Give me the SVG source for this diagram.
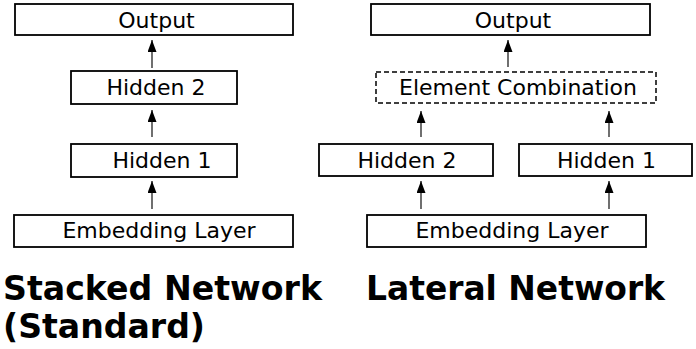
<svg xmlns="http://www.w3.org/2000/svg" width="696" height="349" viewBox="0 0 696 349">
  <defs>
    <marker id="ah" markerUnits="userSpaceOnUse" markerWidth="12" markerHeight="10" refX="12" refY="4.5" orient="auto">
      <path d="M0,0 L12,4.5 L0,9 z" fill="#000"/>
    </marker>
    <style>
      .box { fill: #fff; stroke: #000; stroke-width: 1.8; }
      .dash { fill: #fff; stroke: #000; stroke-width: 1.5; stroke-dasharray: 5 3; }
      .lbl { font-family: "DejaVu Sans", Verdana, sans-serif; font-size: 22px; fill: #000; text-anchor: middle; }
      .title { font-family: "DejaVu Sans", Verdana, sans-serif; font-size: 33px; font-weight: bold; fill: #000; }
      .conn line { stroke: #333; stroke-width: 1.4; marker-end: url(#ah); }
    </style>
  </defs>
  <rect width="696" height="349" fill="#fff"/>

  <!-- Stacked network -->
  <g id="s-output"><rect class="box" x="15" y="4" width="278" height="31"/><text class="lbl" x="156.5" y="28">Output</text></g>
  <g id="s-hidden2"><rect class="box" x="71" y="71" width="166" height="33"/><text class="lbl" x="156" y="95">Hidden 2</text></g>
  <g id="s-hidden1"><rect class="box" x="71" y="144" width="166" height="33"/><text class="lbl" x="162" y="168">Hidden 1</text></g>
  <g id="s-embed"><rect class="box" x="14" y="215" width="279" height="32"/><text class="lbl" x="159" y="238">Embedding Layer</text></g>

  <!-- Lateral network -->
  <g id="l-output"><rect class="box" x="371" y="4" width="279" height="31"/><text class="lbl" x="513" y="28">Output</text></g>
  <g id="l-combo"><rect class="dash" x="376" y="72" width="280" height="31"/><text class="lbl" x="518" y="95">Element Combination</text></g>
  <g id="l-hidden2"><rect class="box" x="319" y="144" width="174" height="32"/><text class="lbl" x="407" y="168">Hidden 2</text></g>
  <g id="l-hidden1"><rect class="box" x="519" y="144" width="173" height="32"/><text class="lbl" x="606.5" y="168">Hidden 1</text></g>
  <g id="l-embed"><rect class="box" x="367" y="215" width="279" height="32"/><text class="lbl" x="512" y="238">Embedding Layer</text></g>

  <g id="connectors" class="conn">
    <line x1="152" y1="68" x2="152" y2="40"/>
    <line x1="152" y1="137" x2="152" y2="110"/>
    <line x1="152" y1="209" x2="152" y2="181"/>
    <line x1="508" y1="67" x2="508" y2="40"/>
    <line x1="421" y1="137" x2="421" y2="111"/>
    <line x1="609" y1="137" x2="609" y2="111"/>
    <line x1="421" y1="209" x2="421" y2="181"/>
    <line x1="609" y1="209" x2="609" y2="181"/>
  </g>

  <text class="title" x="3" y="299.5" textLength="319" lengthAdjust="spacingAndGlyphs">Stacked Network</text>
  <text class="title" x="3" y="338" textLength="202" lengthAdjust="spacingAndGlyphs">(Standard)</text>
  <text class="title" x="366" y="299.5" textLength="299" lengthAdjust="spacingAndGlyphs">Lateral Network</text>
</svg>
